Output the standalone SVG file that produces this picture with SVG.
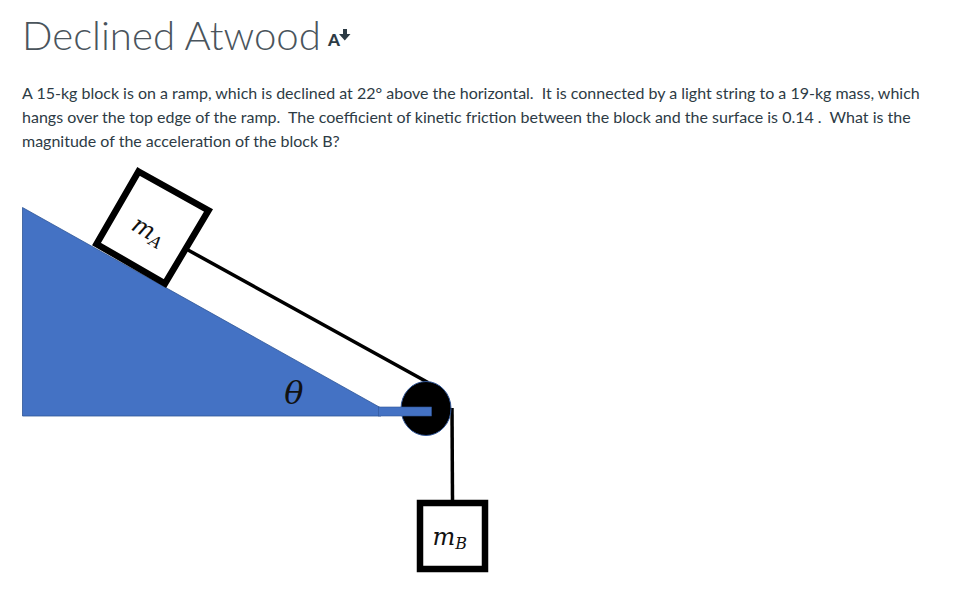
<svg xmlns="http://www.w3.org/2000/svg" width="954" height="611" viewBox="0 0 954 611">
<style>
.title{font-family:Lato,"Liberation Sans",sans-serif;font-weight:300;font-size:40.150px;fill:#4a545c}
.body{font-family:Lato,"Liberation Sans",sans-serif;font-size:16px;fill:#2d3b45;white-space:pre}
.math{font-family:"DejaVu Serif","Liberation Serif",serif;font-style:italic;fill:#111}
.box{fill:#fff;stroke:#000;stroke-width:6.500}
.blue{fill:#4472c4;stroke:#2f5597;stroke-width:.8}
.str{fill:none;stroke:#000;stroke-width:3.500}
</style>
<rect width="954" height="611" fill="#fff"/>
<g id="heading">
<text class="title" x="22" y="49.500">Declined Atwood</text>
<text x="328" y="46" font-family="Lato,'Liberation Sans',sans-serif" font-weight="900" font-size="17" fill="#2d3b45">A</text>
<path d="M343 29h4v5h3.500l-5.750 6.500-5.750-6.500h4z" fill="#2d3b45"/>
</g>
<g id="problem">
<text class="body" x="22" y="99">A 15-kg block is on a ramp, which is declined at 22° above the horizontal.  It is connected by a light string to a 19-kg mass, which</text>
<text class="body" x="22" y="123">hangs over the top edge of the ramp.  The coefficient of kinetic friction between the block and the surface is 0.14 .  What is the</text>
<text class="body" x="22" y="147">magnitude of the acceleration of the block B?</text>
</g>
<g id="ramp">
<path class="blue" d="M22.500 207.500L381 408V416H22.500Z"/>
<text class="math" x="294" y="404" font-size="32" text-anchor="middle">θ</text>
</g>
<g id="connectors">
<path class="str" d="M188 250L428 382.500"/>
<path class="str" d="M452 408L452.500 501"/>
</g>
<g id="pulley">
<ellipse cx="426" cy="408.500" rx="25" ry="27" fill="#000" stroke="#2f5597" stroke-width="1"/>
<rect class="blue" x="378.500" y="407" width="53" height="9" style="stroke-width:.6"/>
</g>
<g id="block-a">
<path class="box" d="M138.500 171.500L208.500 210.500L165 283.500L96.500 244Z"/>
<text class="math" transform="translate(130 229) rotate(30)" font-size="24">m<tspan font-size="16" dy="4">A</tspan></text>
</g>
<g id="block-b">
<rect class="box" x="420" y="503" width="65" height="66"/>
<text class="math" x="432.500" y="545" font-size="24">m<tspan font-size="16" dy="4">B</tspan></text>
</g>
</svg>
